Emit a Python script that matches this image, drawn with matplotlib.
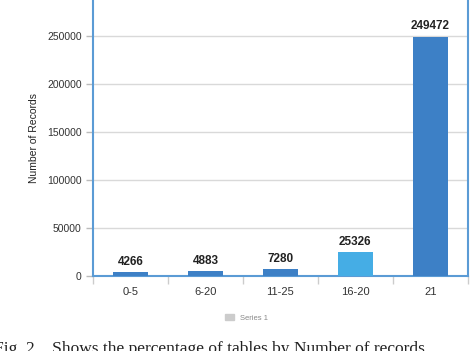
import matplotlib
matplotlib.use("Agg")
import matplotlib.pyplot as plt
from matplotlib.patches import Patch
import numpy as np

categories = ["0-5", "6-20", "11-25", "16-20", "21"]
records = [4266, 4883, 7280, 25326, 249472]
bar_colors = ["#3d80c6", "#3d80c6", "#3d80c6", "#45ade5", "#3d80c6"]
yticks = [0, 50000, 100000, 150000, 200000, 250000]

plt.rcParams["font.family"] = ["Liberation Sans", "DejaVu Sans"]

fig = plt.figure(figsize=(4.74, 3.51), dpi=100)
ax = fig.add_axes([0.196, 0.2137, 0.791, 0.7863])

x = np.arange(len(categories))
bars = ax.bar(x, records, width=0.47, color=bar_colors, zorder=3)
for b, v in zip(bars, records):
    ax.annotate(str(v), (b.get_x() + b.get_width() / 2, v), xytext=(0, 3),
                textcoords="offset points", ha="center", va="bottom",
                fontsize=8.5, fontweight="bold", color="#222222")

ax.set_xlim(-0.5, len(categories) - 0.5)
ax.set_ylim(0, 287500)
ax.set_yticks(yticks)
ax.set_yticklabels([str(t) for t in yticks], fontsize=7.5, color="#333333")
ax.set_xticks(x)
ax.set_xticklabels(categories, fontsize=8, color="#333333")
ax.set_xticks(np.arange(len(categories) + 1) - 0.5, minor=True)
ax.tick_params(axis="x", which="major", length=0, pad=8)
ax.tick_params(axis="x", which="minor", length=6, color="#cccccc", width=1)
ax.tick_params(axis="y", length=5, color="#bbbbbb", width=1, pad=3)
ax.yaxis.grid(True, color="#d9d9d9", lw=1, zorder=0)

for side in ["left", "right", "bottom"]:
    ax.spines[side].set_color("#5b9bd5")
    ax.spines[side].set_linewidth(1.5)
ax.spines["top"].set_visible(False)

ax.set_ylabel("Number of Records", fontsize=7.5, color="#222222", labelpad=6)

fig.legend(handles=[Patch(color="#cccccc", label="Series 1")],
           loc="center", bbox_to_anchor=(0.52, 0.094), frameon=False,
           fontsize=5.5, handlelength=1.2, handleheight=0.9,
           labelcolor="#888888")

# figure caption, cut off by the bottom edge as in the source image
fig.text(-0.012, 0.028, "Fig. 2.   Shows the percentage of tables by Number of records",
         family="Liberation Serif", fontsize=12.5, va="top", ha="left", color="#222222")

fig.savefig("out.png", dpi=100)
